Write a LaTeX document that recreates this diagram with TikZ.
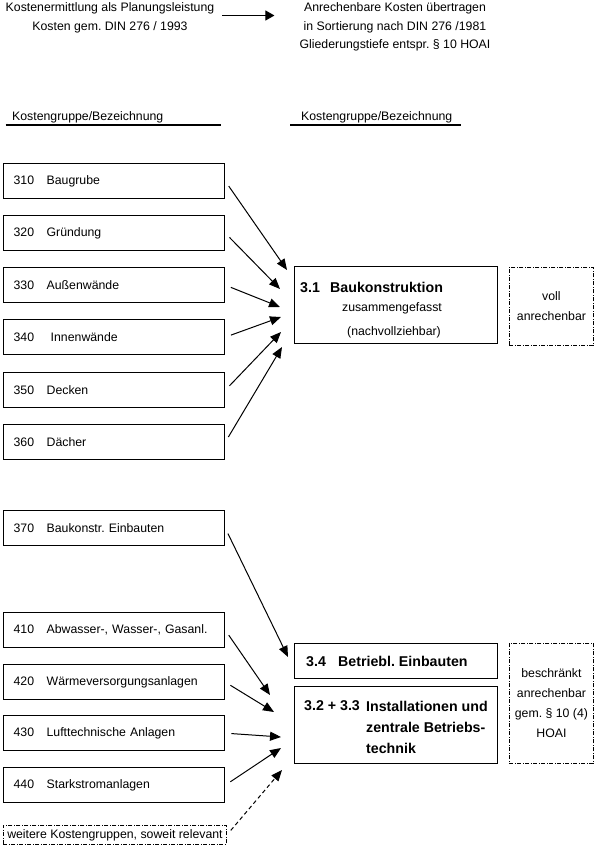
\documentclass[tikz,border=0pt]{standalone}
\usepackage{fontspec}
\setmainfont{Liberation Sans}
\usetikzlibrary{arrows.meta}
\frenchspacing
\newcommand{\kgnr}[2]{\makebox[33pt][l]{#1}#2}

\begin{document}
\begin{tikzpicture}[x=1pt,y=-1pt,font=\fontsize{12.3}{18.5}\selectfont,
    kg/.style={draw,line width=1.3pt,anchor=north west,minimum height=35pt,text width=201pt,inner xsep=10pt,align=left},
    ziel/.style={draw,line width=1.3pt,anchor=north west,minimum width=203pt},
    hinweis/.style={draw,line width=.9pt,dash pattern=on 4pt off 1.5pt on 1pt off 1.5pt,anchor=north west,
      minimum width=84pt,inner sep=1pt,align=center,font=\fontsize{12.3}{20}\selectfont},
    fett/.style={font=\fontsize{14.2}{21}\selectfont\bfseries,inner sep=0pt},
    pfeil/.style={line width=1pt,-{Triangle[length=11pt,width=9pt]},shorten <=6pt}]
  \useasboundingbox (0,0) rectangle (595,845);
  \node[align=center,inner sep=0pt] (kopfL) at (110,18) {Kostenermittlung als Planungsleistung\\Kosten gem. DIN 276 / 1993};
  \node[align=center,inner sep=0pt] (kopfR) at (395,27) {Anrechenbare Kosten übertragen\\in Sortierung nach DIN 276 /1981\\Gliederungstiefe entspr. \S~10 HOAI};
  \draw[line width=1pt,-{Triangle[length=9pt,width=10pt]},shorten <=8pt,shorten >=25pt]
    ([yshift=2.5pt]kopfL.east) -- ([yshift=2.5pt]kopfL.east -| kopfR.west);
  \node[anchor=west,inner sep=0pt] (spalteL) at (12,117) {Kostengruppe/Bezeichnung};
  \draw[line width=1.1pt] (5.5,125) -- (221,125);
  \node[anchor=west,inner sep=0pt] (spalteR) at (301,117) {Kostengruppe/Bezeichnung};
  \draw[line width=1.1pt] (290,125) -- (461,125);

  \node[kg] (k310) at (3,163) {\kgnr{310}{Baugrube}};
  \node[kg] (k320) at (3,215) {\kgnr{320}{Gründung}};
  \node[kg] (k330) at (3,267) {\kgnr{330}{Außenwände}};
  \node[kg] (k340) at (3,319) {\kgnr{340}{\ Innenwände}};
  \node[kg] (k350) at (3,372) {\kgnr{350}{Decken}};
  \node[kg] (k360) at (3,424) {\kgnr{360}{Dächer}};
  \node[kg] (k370) at (3,510) {\kgnr{370}{Baukonstr. Einbauten}};
  \node[kg] (k410) at (3,612) {\kgnr{410}{Abwasser-, Wasser-, Gasanl.}};
  \node[kg] (k420) at (3,664) {\kgnr{420}{Wärmeversorgungsanlagen}};
  \node[kg] (k430) at (3,715) {\kgnr{430}{Lufttechnische Anlagen}};
  \node[kg] (k440) at (3,767) {\kgnr{440}{Starkstromanlagen}};
  \node[hinweis,minimum width=223pt,minimum height=19pt] (weitere) at (3,825) {weitere Kostengruppen, soweit relevant};

  \node[ziel,minimum height=77pt] (b31) at (294,266) {};
  \node[fett,anchor=west] (b31titel) at (300,287) {\makebox[30pt][l]{3.1}Baukonstruktion};
  \node[inner sep=0pt] (b31a) at (392,308) {zusammengefasst};
  \node[inner sep=0pt] (b31b) at (394,332) {(nachvollziehbar)};
  \node[hinweis,minimum height=78pt] (voll) at (509,267) {voll\\anrechenbar};

  \node[ziel,minimum height=35pt] (b34) at (294,643) {};
  \node[fett,anchor=west] (b34titel) at (306,661) {\makebox[32pt][l]{3.4}Betriebl. Einbauten};
  \node[ziel,minimum height=77pt] (b323) at (294,686) {};
  \node[fett,anchor=west] (b323nr) at (304,706) {3.2 + 3.3};
  \node[fett,anchor=west,align=left] (b323titel) at (366,727) {Installationen und\\zentrale Betriebs-\\technik};
  \node[hinweis,minimum height=120pt] (beschr) at (509,643) {beschränkt\\anrechenbar\\gem. \S~10 (4)\\HOAI};

  \coordinate (e310) at (287,270);
  \coordinate (e320) at (280,289);
  \coordinate (e330) at (280,307);
  \coordinate (e340) at (281,317);
  \coordinate (e350) at (281,332);
  \coordinate (e360) at (282,347);
  \coordinate (e370) at (288,657);
  \coordinate (e410) at (270,695);
  \coordinate (e420) at (274,712);
  \coordinate (e430) at (281,737);
  \coordinate (e440) at (281,748);
  \coordinate (eweitere) at (282,770);
  \draw[pfeil] (k310.east) -- (e310);
  \draw[pfeil] (k320.east) -- (e320);
  \draw[pfeil] (k330.east) -- (e330);
  \draw[pfeil] (k340.east) -- (e340);
  \draw[pfeil] (k350.east) -- (e350);
  \draw[pfeil] (k360.east) -- (e360);
  \draw[pfeil] (k370.east) -- (e370);
  \draw[pfeil] (k410.east) -- (e410);
  \draw[pfeil] (k420.east) -- (e420);
  \draw[pfeil] (k430.east) -- (e430);
  \draw[pfeil] (k440.east) -- (e440);
  \draw[pfeil,dash pattern=on 4pt off 3pt] (weitere.east) -- (eweitere);
\end{tikzpicture}
\end{document}
